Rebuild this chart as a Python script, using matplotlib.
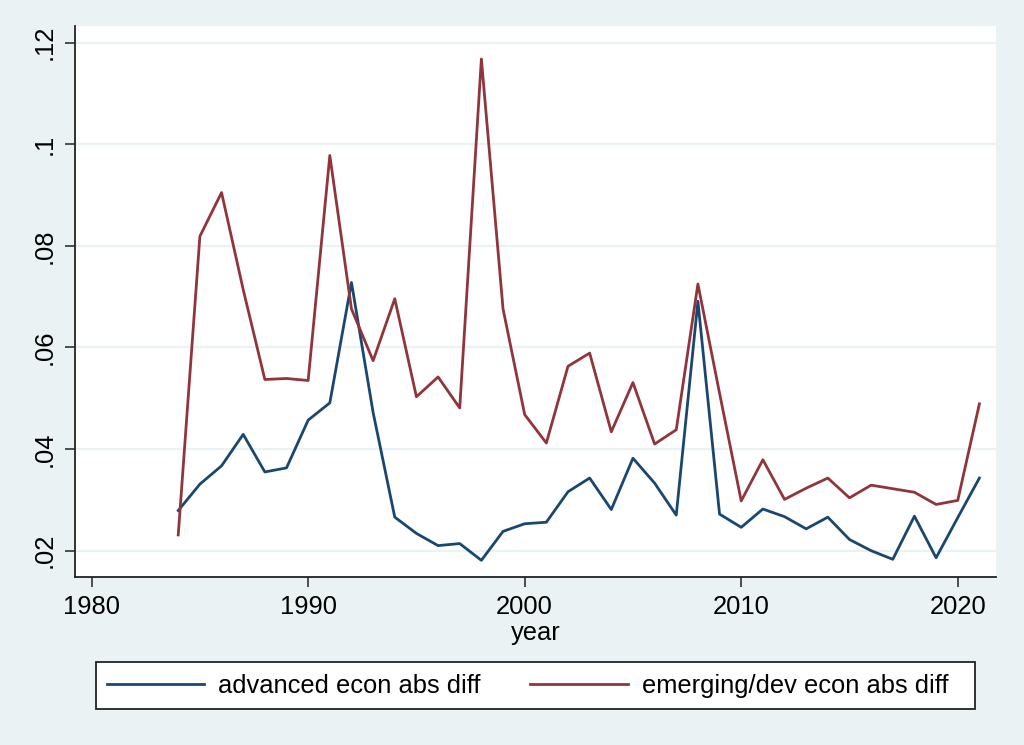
import matplotlib
matplotlib.use("Agg")
import matplotlib.pyplot as plt
from matplotlib.patches import Rectangle

# values
years = list(range(1984, 2022))

advanced = [0.0279, 0.0331, 0.0367, 0.0429, 0.0355, 0.0363, 0.0457, 0.0491,
            0.0728, 0.0472, 0.0266, 0.0234, 0.0210, 0.0214, 0.0181, 0.0238,
            0.0253, 0.0256, 0.0316, 0.0343, 0.0281, 0.0382, 0.0333, 0.0270,
            0.0691, 0.0272, 0.0246, 0.0282, 0.0267, 0.0243, 0.0266, 0.0222,
            0.0200, 0.0183, 0.0268, 0.0186, 0.0265, 0.0343]

emerging = [0.0231, 0.0819, 0.0905, 0.0714, 0.0537, 0.0539, 0.0535, 0.0978,
            0.0676, 0.0574, 0.0696, 0.0503, 0.0542, 0.0481, 0.1168, 0.0676,
            0.0468, 0.0412, 0.0563, 0.0589, 0.0434, 0.0531, 0.0410, 0.0438,
            0.0725, 0.0510, 0.0298, 0.0379, 0.0301, 0.0323, 0.0343, 0.0304,
            0.0329, 0.0322, 0.0315, 0.0291, 0.0299, 0.0489]

x_ticks = [1980, 1990, 2000, 2010, 2020]
y_ticks = [0.02, 0.04, 0.06, 0.08, 0.10, 0.12]
y_labels = ['.02', '.04', '.06', '.08', '.1', '.12']
legend_labels = ['advanced econ abs diff', 'emerging/dev econ abs diff']

navy = '#1A476F'
maroon = '#90353B'
bg = '#EAF2F3'

plt.rcParams['font.family'] = ['Liberation Sans', 'DejaVu Sans']

fig = plt.figure(figsize=(10.24, 7.45), dpi=100, facecolor=bg)
ax = fig.add_axes([0.0732, 0.2251, 0.8992, 0.7400])
ax.set_facecolor('white')

l1, = ax.plot(years, advanced, color=navy, lw=2.0, zorder=3)
l2, = ax.plot(years, emerging, color=maroon, lw=2.0, zorder=3)

ax.set_xlim(1979.23, 2021.755)
ax.set_ylim(0.01476, 0.12329)
ax.set_xticks(x_ticks)
ax.set_yticks(y_ticks)
ax.set_yticklabels(y_labels, rotation=90, va='center')
ax.yaxis.grid(True, color=bg, lw=1.6, zorder=0)
ax.set_axisbelow(True)

for s in ['top', 'right']:
    ax.spines[s].set_visible(False)
for s in ['left', 'bottom']:
    ax.spines[s].set_color('#222222')
    ax.spines[s].set_linewidth(1.3)

ax.tick_params(axis='both', direction='out', length=7, width=1.1,
               color='#222222', labelsize=18.4)
ax.tick_params(axis='y', pad=6)
ax.tick_params(axis='x', pad=6)
ax.set_xlabel('year', fontsize=18.4, labelpad=1)

# legend box below the plot
x0, x1 = 96 / 1024, 975 / 1024
y0, y1 = 1 - 709.3 / 745, 1 - 662.3 / 745
fig.patches.append(Rectangle((x0, y0), x1 - x0, y1 - y0, transform=fig.transFigure,
                             facecolor='white', edgecolor='#222222', lw=1.3))
fig.legend([l1, l2], legend_labels, loc='center left',
           bbox_to_anchor=(0.1042, (y0 + y1) / 2), ncol=2, frameon=False,
           fontsize=18.4, handlelength=3.8, handletextpad=0.55,
           columnspacing=1.96, borderaxespad=0, borderpad=0)

fig.savefig('out.png', dpi=100, facecolor=bg)
